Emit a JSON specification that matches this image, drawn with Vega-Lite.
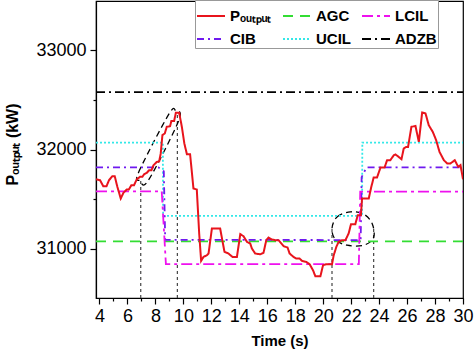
{
  "$schema": "https://vega.github.io/schema/vega-lite/v6.json",
  "width": 367,
  "height": 297,
  "autosize": "none",
  "padding": {"left": 96, "top": 1, "right": 11, "bottom": 55},
  "background": "white",
  "config": {
    "font": "Liberation Sans",
    "view": {"stroke": "black", "strokeWidth": 1.2},
    "axis": {
      "grid": false,
      "domainColor": "black",
      "domainWidth": 1.2,
      "tickColor": "black",
      "tickWidth": 1.2,
      "labelColor": "black",
      "labelFont": "Liberation Sans",
      "labelFontSize": 18,
      "titleFont": "Liberation Sans",
      "titleFontSize": 15,
      "titleFontWeight": "bold",
      "titleColor": "black"
    }
  },
  "datasets": {
    "series": [
      {"s": "AGC", "t": 3.75, "v": 31072}, {"s": "AGC", "t": 30, "v": 31072},
      {"s": "ADZB", "t": 3.75, "v": 32580}, {"s": "ADZB", "t": 30, "v": 32580},
      {"s": "UCIL", "t": 3.75, "v": 32070}, {"s": "UCIL", "t": 8.53, "v": 32070}, {"s": "UCIL", "t": 8.55, "v": 31330}, {"s": "UCIL", "t": 22.78, "v": 31330}, {"s": "UCIL", "t": 22.8, "v": 32070}, {"s": "UCIL", "t": 30, "v": 32070},
      {"s": "CIB", "t": 3.75, "v": 31820}, {"s": "CIB", "t": 8.2, "v": 31820}, {"s": "CIB", "t": 8.6, "v": 31780}, {"s": "CIB", "t": 8.7, "v": 31088}, {"s": "CIB", "t": 22.68, "v": 31085}, {"s": "CIB", "t": 22.75, "v": 31720}, {"s": "CIB", "t": 23.1, "v": 31820}, {"s": "CIB", "t": 30, "v": 31820},
      {"s": "LCIL", "t": 3.75, "v": 31578}, {"s": "LCIL", "t": 8.45, "v": 31578}, {"s": "LCIL", "t": 8.75, "v": 30842}, {"s": "LCIL", "t": 22.55, "v": 30842}, {"s": "LCIL", "t": 22.65, "v": 31575}, {"s": "LCIL", "t": 30, "v": 31575},
      {"s": "Pₒᵤₜₚᵤₜ", "t": 3.75, "v": 31700}, {"s": "Pₒᵤₜₚᵤₜ", "t": 4.04, "v": 31690}, {"s": "Pₒᵤₜₚᵤₜ", "t": 4.27, "v": 31629}, {"s": "Pₒᵤₜₚᵤₜ", "t": 4.5, "v": 31629}, {"s": "Pₒᵤₜₚᵤₜ", "t": 4.68, "v": 31690}, {"s": "Pₒᵤₜₚᵤₜ", "t": 4.92, "v": 31730}, {"s": "Pₒᵤₜₚᵤₜ", "t": 5.09, "v": 31730}, {"s": "Pₒᵤₜₚᵤₜ", "t": 5.28, "v": 31622}, {"s": "Pₒᵤₜₚᵤₜ", "t": 5.52, "v": 31505}, {"s": "Pₒᵤₜₚᵤₜ", "t": 5.71, "v": 31562}, {"s": "Pₒᵤₜₚᵤₜ", "t": 5.95, "v": 31596}, {"s": "Pₒᵤₜₚᵤₜ", "t": 6.1, "v": 31596}, {"s": "Pₒᵤₜₚᵤₜ", "t": 6.28, "v": 31639}, {"s": "Pₒᵤₜₚᵤₜ", "t": 6.47, "v": 31639}, {"s": "Pₒᵤₜₚᵤₜ", "t": 6.66, "v": 31697}, {"s": "Pₒᵤₜₚᵤₜ", "t": 6.9, "v": 31724}, {"s": "Pₒᵤₜₚᵤₜ", "t": 7.07, "v": 31724}, {"s": "Pₒᵤₜₚᵤₜ", "t": 7.19, "v": 31750}, {"s": "Pₒᵤₜₚᵤₜ", "t": 7.38, "v": 31764}, {"s": "Pₒᵤₜₚᵤₜ", "t": 7.55, "v": 31791}, {"s": "Pₒᵤₜₚᵤₜ", "t": 7.72, "v": 31791}, {"s": "Pₒᵤₜₚᵤₜ", "t": 7.86, "v": 31841}, {"s": "Pₒᵤₜₚᵤₜ", "t": 8.1, "v": 31875}, {"s": "Pₒᵤₜₚᵤₜ", "t": 8.27, "v": 31880}, {"s": "Pₒᵤₜₚᵤₜ", "t": 8.38, "v": 31960}, {"s": "Pₒᵤₜₚᵤₜ", "t": 8.5, "v": 32145}, {"s": "Pₒᵤₜₚᵤₜ", "t": 8.67, "v": 32162}, {"s": "Pₒᵤₜₚᵤₜ", "t": 8.81, "v": 32229}, {"s": "Pₒᵤₜₚᵤₜ", "t": 9.05, "v": 32235}, {"s": "Pₒᵤₜₚᵤₜ", "t": 9.14, "v": 32289}, {"s": "Pₒᵤₜₚᵤₜ", "t": 9.34, "v": 32289}, {"s": "Pₒᵤₜₚᵤₜ", "t": 9.46, "v": 32370}, {"s": "Pₒᵤₜₚᵤₜ", "t": 9.7, "v": 32370}, {"s": "Pₒᵤₜₚᵤₜ", "t": 9.89, "v": 32229}, {"s": "Pₒᵤₜₚᵤₜ", "t": 10.07, "v": 32061}, {"s": "Pₒᵤₜₚᵤₜ", "t": 10.25, "v": 31953}, {"s": "Pₒᵤₜₚᵤₜ", "t": 10.48, "v": 31953}, {"s": "Pₒᵤₜₚᵤₜ", "t": 10.72, "v": 31606}, {"s": "Pₒᵤₜₚᵤₜ", "t": 10.96, "v": 31596}, {"s": "Pₒᵤₜₚᵤₜ", "t": 11.13, "v": 31152}, {"s": "Pₒᵤₜₚᵤₜ", "t": 11.27, "v": 30875}, {"s": "Pₒᵤₜₚᵤₜ", "t": 11.44, "v": 30915}, {"s": "Pₒᵤₜₚᵤₜ", "t": 11.68, "v": 30932}, {"s": "Pₒᵤₜₚᵤₜ", "t": 11.8, "v": 30949}, {"s": "Pₒᵤₜₚᵤₜ", "t": 12.04, "v": 31202}, {"s": "Pₒᵤₜₚᵤₜ", "t": 12.63, "v": 31202}, {"s": "Pₒᵤₜₚᵤₜ", "t": 12.94, "v": 30966}, {"s": "Pₒᵤₜₚᵤₜ", "t": 13.23, "v": 30949}, {"s": "Pₒᵤₜₚᵤₜ", "t": 13.51, "v": 30915}, {"s": "Pₒᵤₜₚᵤₜ", "t": 13.83, "v": 30915}, {"s": "Pₒᵤₜₚᵤₜ", "t": 14.07, "v": 31145}, {"s": "Pₒᵤₜₚᵤₜ", "t": 14.3, "v": 31124}, {"s": "Pₒᵤₜₚᵤₜ", "t": 14.55, "v": 31067}, {"s": "Pₒᵤₜₚᵤₜ", "t": 14.78, "v": 31051}, {"s": "Pₒᵤₜₚᵤₜ", "t": 14.9, "v": 31000}, {"s": "Pₒᵤₜₚᵤₜ", "t": 15.14, "v": 30949}, {"s": "Pₒᵤₜₚᵤₜ", "t": 15.5, "v": 30942}, {"s": "Pₒᵤₜₚᵤₜ", "t": 15.73, "v": 30956}, {"s": "Pₒᵤₜₚᵤₜ", "t": 15.93, "v": 31084}, {"s": "Pₒᵤₜₚᵤₜ", "t": 16.09, "v": 31111}, {"s": "Pₒᵤₜₚᵤₜ", "t": 16.33, "v": 31091}, {"s": "Pₒᵤₜₚᵤₜ", "t": 16.57, "v": 31084}, {"s": "Pₒᵤₜₚᵤₜ", "t": 16.81, "v": 31084}, {"s": "Pₒᵤₜₚᵤₜ", "t": 17.17, "v": 31023}, {"s": "Pₒᵤₜₚᵤₜ", "t": 17.45, "v": 31010}, {"s": "Pₒᵤₜₚᵤₜ", "t": 17.6, "v": 30949}, {"s": "Pₒᵤₜₚᵤₜ", "t": 17.88, "v": 30915}, {"s": "Pₒᵤₜₚᵤₜ", "t": 18.07, "v": 30899}, {"s": "Pₒᵤₜₚᵤₜ", "t": 18.31, "v": 30899}, {"s": "Pₒᵤₜₚᵤₜ", "t": 18.48, "v": 30875}, {"s": "Pₒᵤₜₚᵤₜ", "t": 18.79, "v": 30865}, {"s": "Pₒᵤₜₚᵤₜ", "t": 19.03, "v": 30841}, {"s": "Pₒᵤₜₚᵤₜ", "t": 19.27, "v": 30781}, {"s": "Pₒᵤₜₚᵤₜ", "t": 19.44, "v": 30720}, {"s": "Pₒᵤₜₚᵤₜ", "t": 19.8, "v": 30720}, {"s": "Pₒᵤₜₚᵤₜ", "t": 19.99, "v": 30831}, {"s": "Pₒᵤₜₚᵤₜ", "t": 20.22, "v": 30841}, {"s": "Pₒᵤₜₚᵤₜ", "t": 20.63, "v": 30841}, {"s": "Pₒᵤₜₚᵤₜ", "t": 20.75, "v": 30930}, {"s": "Pₒᵤₜₚᵤₜ", "t": 20.94, "v": 31016}, {"s": "Pₒᵤₜₚᵤₜ", "t": 21.1, "v": 31067}, {"s": "Pₒᵤₜₚᵤₜ", "t": 21.35, "v": 31084}, {"s": "Pₒᵤₜₚᵤₜ", "t": 21.59, "v": 31084}, {"s": "Pₒᵤₜₚᵤₜ", "t": 21.82, "v": 31152}, {"s": "Pₒᵤₜₚᵤₜ", "t": 21.99, "v": 31246}, {"s": "Pₒᵤₜₚᵤₜ", "t": 22.3, "v": 31246}, {"s": "Pₒᵤₜₚᵤₜ", "t": 22.47, "v": 31336}, {"s": "Pₒᵤₜₚᵤₜ", "t": 22.7, "v": 31336}, {"s": "Pₒᵤₜₚᵤₜ", "t": 22.78, "v": 31505}, {"s": "Pₒᵤₜₚᵤₜ", "t": 23.26, "v": 31505}, {"s": "Pₒᵤₜₚᵤₜ", "t": 23.43, "v": 31616}, {"s": "Pₒᵤₜₚᵤₜ", "t": 23.61, "v": 31717}, {"s": "Pₒᵤₜₚᵤₜ", "t": 23.85, "v": 31717}, {"s": "Pₒᵤₜₚᵤₜ", "t": 24.1, "v": 31818}, {"s": "Pₒᵤₜₚᵤₜ", "t": 24.39, "v": 31818}, {"s": "Pₒᵤₜₚᵤₜ", "t": 24.57, "v": 31892}, {"s": "Pₒᵤₜₚᵤₜ", "t": 24.8, "v": 31892}, {"s": "Pₒᵤₜₚᵤₜ", "t": 25.05, "v": 31942}, {"s": "Pₒᵤₜₚᵤₜ", "t": 25.17, "v": 31950}, {"s": "Pₒᵤₜₚᵤₜ", "t": 25.4, "v": 31925}, {"s": "Pₒᵤₜₚᵤₜ", "t": 25.6, "v": 31902}, {"s": "Pₒᵤₜₚᵤₜ", "t": 25.76, "v": 32010}, {"s": "Pₒᵤₜₚᵤₜ", "t": 25.93, "v": 32026}, {"s": "Pₒᵤₜₚᵤₜ", "t": 26.07, "v": 32026}, {"s": "Pₒᵤₜₚᵤₜ", "t": 26.31, "v": 32229}, {"s": "Pₒᵤₜₚᵤₜ", "t": 26.6, "v": 32238}, {"s": "Pₒᵤₜₚᵤₜ", "t": 26.84, "v": 32077}, {"s": "Pₒᵤₜₚᵤₜ", "t": 27.08, "v": 32374}, {"s": "Pₒᵤₜₚᵤₜ", "t": 27.32, "v": 32364}, {"s": "Pₒᵤₜₚᵤₜ", "t": 27.55, "v": 32245}, {"s": "Pₒᵤₜₚᵤₜ", "t": 27.84, "v": 32178}, {"s": "Pₒᵤₜₚᵤₜ", "t": 28.08, "v": 32094}, {"s": "Pₒᵤₜₚᵤₜ", "t": 28.32, "v": 31976}, {"s": "Pₒᵤₜₚᵤₜ", "t": 28.63, "v": 31892}, {"s": "Pₒᵤₜₚᵤₜ", "t": 28.87, "v": 31859}, {"s": "Pₒᵤₜₚᵤₜ", "t": 29.1, "v": 31859}, {"s": "Pₒᵤₜₚᵤₜ", "t": 29.41, "v": 31892}, {"s": "Pₒᵤₜₚᵤₜ", "t": 29.66, "v": 31825}, {"s": "Pₒᵤₜₚᵤₜ", "t": 29.82, "v": 31842}, {"s": "Pₒᵤₜₚᵤₜ", "t": 30, "v": 31700}
    ],
    "guides": [
      {"t": 6.95, "v0": 30500, "v1": 31700},
      {"t": 9.57, "v0": 30500, "v1": 32375},
      {"t": 20.63, "v0": 30500, "v1": 31200},
      {"t": 23.61, "v0": 30500, "v1": 31200}
    ],
    "ellipses": [
      {"e": 1, "i": 1, "t": 6.9, "v": 31685},
      {"e": 1, "i": 2, "t": 6.8, "v": 31770},
      {"e": 1, "i": 3, "t": 8.95, "v": 32355},
      {"e": 1, "i": 4, "t": 9.45, "v": 32390},
      {"e": 1, "i": 5, "t": 9.66, "v": 32290},
      {"e": 1, "i": 6, "t": 7.5, "v": 31690},
      {"e": 2, "i": 1, "t": 20.63, "v": 31202},
      {"e": 2, "i": 2, "t": 20.99, "v": 31319},
      {"e": 2, "i": 3, "t": 21.95, "v": 31370},
      {"e": 2, "i": 4, "t": 22.9, "v": 31347},
      {"e": 2, "i": 5, "t": 23.5, "v": 31253},
      {"e": 2, "i": 6, "t": 23.61, "v": 31111},
      {"e": 2, "i": 7, "t": 22.9, "v": 31033},
      {"e": 2, "i": 8, "t": 21.71, "v": 31033},
      {"e": 2, "i": 9, "t": 20.87, "v": 31091}
    ]
  },
  "encoding": {
    "x": {
      "field": "t", "type": "quantitative",
      "scale": {"domain": [3.75, 30], "nice": false, "zero": false},
      "axis": {
        "title": "Time (s)",
        "values": [4,5,6,7,8,9,10,11,12,13,14,15,16,17,18,19,20,21,22,23,24,25,26,27,28,29,30],
        "labelExpr": "datum.value % 2 === 0 ? datum.label : ''",
        "tickSize": {"condition": {"test": "datum.value % 2 === 0", "value": 6}, "value": 3},
        "labelPadding": 3,
        "labelFlush": false,
        "titlePadding": 8
      }
    },
    "y": {
      "field": "v", "type": "quantitative",
      "scale": {"domain": [30500, 33500], "nice": false, "zero": false},
      "axis": {
        "title": "Pₒᵤₜₚᵤₜ (kW)",
        "values": [31000, 31500, 32000, 32500, 33000],
        "format": "d",
        "labelExpr": "datum.value % 1000 === 0 ? datum.label : ''",
        "tickSize": {"condition": {"test": "datum.value % 1000 === 0", "value": 6}, "value": 3},
        "labelPadding": 4,
        "titleAngle": -90,
        "titleX": -92,
        "titleY": 143,
        "titleBaseline": "top",
        "titleAlign": "center",
        "titleFontSize": 16
      }
    }
  },
  "layer": [
    {
      "data": {"name": "guides"},
      "mark": {"type": "rule", "color": "#444444", "strokeDash": [3, 3], "strokeWidth": 1.2},
      "encoding": {"y": {"field": "v0", "type": "quantitative"}, "y2": {"field": "v1"}}
    },
    {
      "data": {"name": "ellipses"},
      "mark": {"type": "line", "interpolate": "cardinal-closed", "color": "black", "strokeDash": [6, 4], "strokeWidth": 1.3},
      "encoding": {"detail": {"field": "e"}, "order": {"field": "i", "type": "quantitative"}}
    },
    {
      "data": {"name": "series"},
      "transform": [{"filter": "datum.s !== 'Pₒᵤₜₚᵤₜ'"}],
      "mark": {"type": "line", "strokeWidth": 1.8, "clip": true},
      "encoding": {
        "color": {"field": "s", "type": "nominal",
          "scale": {"domain": ["Pₒᵤₜₚᵤₜ", "CIB", "AGC", "UCIL", "LCIL", "ADZB"], "range": ["#e8141c", "#6f1aef", "#33dd33", "#33e8e8", "#ee11ee", "#000000"]},
          "legend": {
            "title": null, "orient": "none", "legendX": 99, "legendY": -1,
            "columns": 3, "symbolType": "stroke", "symbolSize": 784, "symbolStrokeWidth": 2,
            "labelFont": "Liberation Sans", "labelFontSize": 15, "labelFontWeight": "bold", "labelColor": "black",
            "labelOffset": 4, "columnPadding": 7, "rowPadding": -6, "padding": 1,
            "strokeColor": "#999999", "fillColor": "white"
          }
        },
        "strokeDash": {"field": "s", "type": "nominal",
          "scale": {"domain": ["Pₒᵤₜₚᵤₜ", "CIB", "AGC", "UCIL", "LCIL", "ADZB"], "range": [[1, 0], [7, 4, 2, 4], [10, 7], [2, 2], [11, 4, 3, 4], [9, 4, 2, 4]]},
          "legend": {
            "title": null, "orient": "none", "legendX": 99, "legendY": -1,
            "columns": 3, "symbolType": "stroke", "symbolSize": 784, "symbolStrokeWidth": 2,
            "labelFont": "Liberation Sans", "labelFontSize": 15, "labelFontWeight": "bold", "labelColor": "black",
            "labelOffset": 4, "columnPadding": 7, "rowPadding": -6, "padding": 1,
            "strokeColor": "#999999", "fillColor": "white"
          }
        }
      }
    },
    {
      "data": {"name": "series"},
      "transform": [{"filter": "datum.s === 'Pₒᵤₜₚᵤₜ'"}],
      "mark": {"type": "line", "strokeWidth": 2, "clip": true},
      "encoding": {
        "color": {"field": "s", "type": "nominal"},
        "strokeDash": {"field": "s", "type": "nominal"}
      }
    }
  ]
}
